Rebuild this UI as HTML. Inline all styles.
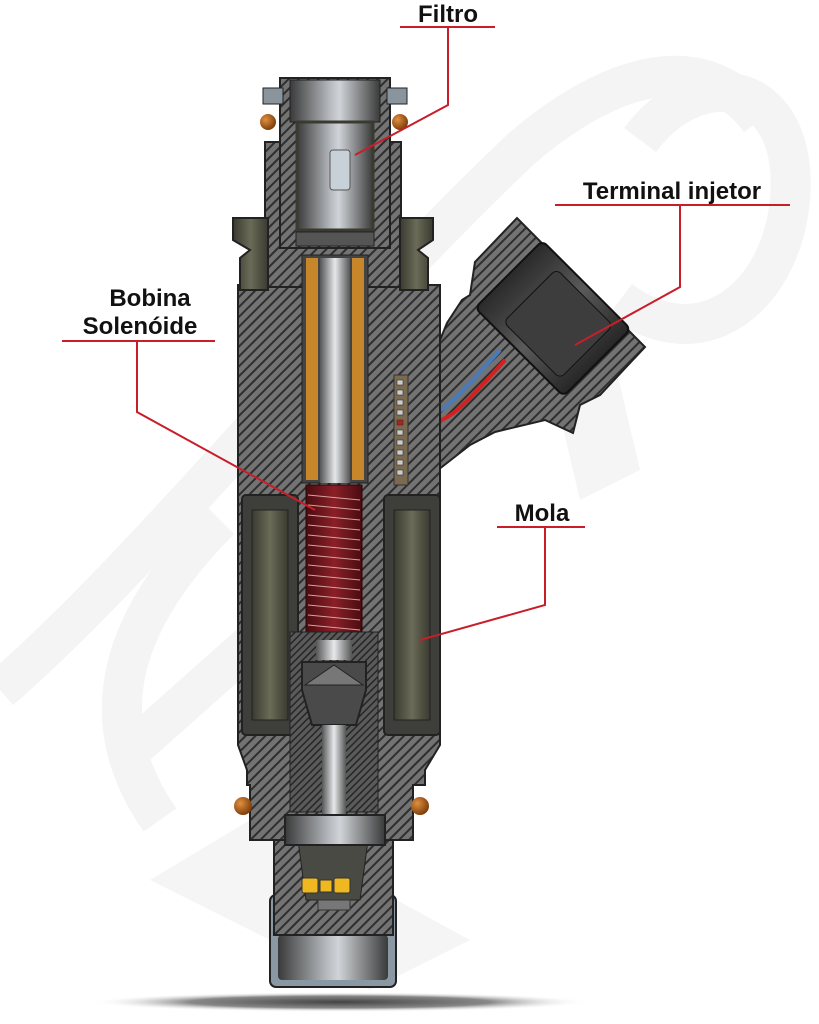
<!DOCTYPE html>
<html><head><meta charset="utf-8"><style>
html,body{margin:0;padding:0;background:#fff;}
svg{display:block;}
text{font-family:"Liberation Sans",sans-serif;font-weight:bold;fill:#111;}
</style></head><body>
<svg width="819" height="1024" viewBox="0 0 819 1024" xmlns="http://www.w3.org/2000/svg">
<defs>
<pattern id="h" width="7" height="7" patternUnits="userSpaceOnUse" patternTransform="rotate(45)">
<rect width="7" height="7" fill="#737373"/><rect width="2" height="7" fill="#2e2e2e"/>
</pattern>
<pattern id="h2" width="5" height="5" patternUnits="userSpaceOnUse" patternTransform="rotate(45)">
<rect width="5" height="5" fill="#5a5a5a"/><rect width="1.5" height="5" fill="#262626"/>
</pattern>
<linearGradient id="met" x1="0" x2="1">
<stop offset="0" stop-color="#3a3a3a"/><stop offset="0.45" stop-color="#b8bcc0"/><stop offset="0.55" stop-color="#d0d4d8"/><stop offset="1" stop-color="#3a3a3a"/>
</linearGradient>
<linearGradient id="rod" x1="0" x2="1">
<stop offset="0" stop-color="#555"/><stop offset="0.5" stop-color="#e6e8ea"/><stop offset="1" stop-color="#555"/>
</linearGradient>
<linearGradient id="coil" x1="0" x2="1">
<stop offset="0" stop-color="#4a0c10"/><stop offset="0.5" stop-color="#8a2028"/><stop offset="1" stop-color="#4a0c10"/>
</linearGradient>
<linearGradient id="olive" x1="0" x2="1">
<stop offset="0" stop-color="#3a3a30"/><stop offset="0.5" stop-color="#6b6b58"/><stop offset="1" stop-color="#3a3a30"/>
</linearGradient>
<linearGradient id="conn" x1="0" x2="1">
<stop offset="0" stop-color="#2a2a2a"/><stop offset="0.5" stop-color="#5a5a5a"/><stop offset="1" stop-color="#262626"/>
</linearGradient>
<radialGradient id="ball" cx="0.35" cy="0.35" r="0.7">
<stop offset="0" stop-color="#e09040"/><stop offset="1" stop-color="#7a3a08"/>
</radialGradient>
<radialGradient id="sh" cx="0.5" cy="0.5" r="0.5">
<stop offset="0" stop-color="#444"/><stop offset="0.6" stop-color="#888"/><stop offset="1" stop-color="#fff" stop-opacity="0"/>
</radialGradient>
</defs>

<!-- watermark -->
<g fill="none" stroke="#f4f4f4" stroke-width="40">
<path d="M0 690 C150 560 330 330 520 150 C600 80 700 40 760 120"/>
<path d="M160 820 C90 720 120 620 220 520"/>
<path d="M640 140 C700 60 800 80 790 200 C780 300 700 360 620 300"/>
<path d="M120 760 L300 600"/>
</g>
<g fill="#f5f5f5">
<polygon points="150,880 250,820 470,940 370,990"/>
<polygon points="540,330 600,300 640,470 580,500"/>
</g>

<!-- shadow -->
<ellipse cx="340" cy="1002" rx="250" ry="10" fill="url(#sh)"/>

<!-- bottom cap -->
<rect x="270" y="895" width="126" height="92" rx="6" fill="#8a98a4" stroke="#222" stroke-width="2"/>
<rect x="278" y="935" width="110" height="45" rx="4" fill="url(#met)"/>
<path d="M274 830 H393 V935 H274 Z" fill="url(#h)" stroke="#222" stroke-width="2"/>
<path d="M298 840 H368 L360 900 H306 Z" fill="#4a4a44" stroke="#222"/>
<rect x="302" y="878" width="16" height="15" rx="2" fill="#f0b820" stroke="#333"/>
<rect x="320" y="880" width="12" height="12" fill="#f0b820" stroke="#333"/>
<rect x="334" y="878" width="16" height="15" rx="2" fill="#f0b820" stroke="#333"/>
<rect x="318" y="900" width="32" height="10" fill="#777" stroke="#333"/>

<!-- connector housing -->
<polygon points="438,345 447,323 462,300 470,295 475,262 517,218 645,347 600,395 580,405 573,433 545,420 495,432 470,445 438,470" fill="url(#h)" stroke="#222" stroke-width="2"/>
<g transform="translate(560,322) rotate(45)">
<rect x="-70" y="-45" width="125" height="95" rx="6" fill="url(#conn)" stroke="#111" stroke-width="2"/>
<rect x="-40" y="-35" width="80" height="75" rx="6" fill="#3d3d3d" stroke="#111"/>
</g>
<path d="M430 415 C445 410 455 400 500 350" stroke="#4a7ab8" stroke-width="4" fill="none"/>
<path d="M430 423 C450 420 460 410 505 360" stroke="#d42020" stroke-width="4" fill="none"/>

<!-- main body -->
<path d="M238 285 H440 V745 L425 770 V785 H413 V840 H250 V785 H247 V770 L238 745 Z" fill="url(#h)" stroke="#222" stroke-width="2"/>
<rect x="265" y="142" width="136" height="145" fill="url(#h)" stroke="#222" stroke-width="2"/>
<path d="M233 218 H268 V290 H240 V258 L250 250 L233 240 Z" fill="url(#olive)" stroke="#222" stroke-width="2"/>
<path d="M433 218 H400 V290 H428 V258 L418 250 L433 240 Z" fill="url(#olive)" stroke="#222" stroke-width="2"/>
<rect x="280" y="78" width="110" height="170" fill="url(#h)" stroke="#222" stroke-width="2"/>
<rect x="263" y="88" width="20" height="16" fill="#8a949c" stroke="#222"/>
<rect x="387" y="88" width="20" height="16" fill="#8a949c" stroke="#222"/>
<rect x="290" y="80" width="90" height="42" fill="url(#met)" stroke="#222"/>
<rect x="297" y="122" width="76" height="108" fill="url(#met)" stroke="#3a3a30" stroke-width="3"/>
<rect x="330" y="150" width="20" height="40" rx="3" fill="#c8d0d8" stroke="#555"/>
<rect x="296" y="232" width="78" height="14" fill="#555" stroke="#222"/>
<circle cx="268" cy="122" r="8" fill="url(#ball)"/>
<circle cx="400" cy="122" r="8" fill="url(#ball)"/>
<rect x="302" y="255" width="66" height="228" fill="#444" stroke="#222"/>
<rect x="306" y="258" width="12" height="222" fill="#c8862a"/>
<rect x="352" y="258" width="12" height="222" fill="#c8862a"/>
<rect x="320" y="258" width="30" height="225" fill="url(#rod)"/>
<rect x="394" y="375" width="14" height="110" fill="#7a6a50" stroke="#333"/>
<g fill="#ccc" stroke="#333" stroke-width="0.6">
<rect x="397" y="380" width="6" height="5"/><rect x="397" y="390" width="6" height="5"/><rect x="397" y="400" width="6" height="5"/><rect x="397" y="410" width="6" height="5"/><rect x="397" y="420" width="6" height="5" fill="#b02020"/><rect x="397" y="430" width="6" height="5"/><rect x="397" y="440" width="6" height="5"/><rect x="397" y="450" width="6" height="5"/><rect x="397" y="460" width="6" height="5"/><rect x="397" y="470" width="6" height="5"/>
</g>
<rect x="242" y="495" width="56" height="240" rx="4" fill="#3e3e3a" stroke="#222" stroke-width="2"/>
<rect x="252" y="510" width="36" height="210" fill="url(#olive)" stroke="#222"/>
<rect x="384" y="495" width="56" height="240" rx="4" fill="#3e3e3a" stroke="#222" stroke-width="2"/>
<rect x="394" y="510" width="36" height="210" fill="url(#olive)" stroke="#222"/>
<rect x="306" y="485" width="56" height="160" fill="url(#coil)" stroke="#2a0608"/>
<g stroke="#d8a0a0" stroke-width="1">
<line x1="308" y1="495" x2="360" y2="500"/><line x1="308" y1="505" x2="360" y2="510"/><line x1="308" y1="515" x2="360" y2="520"/><line x1="308" y1="525" x2="360" y2="530"/><line x1="308" y1="535" x2="360" y2="540"/><line x1="308" y1="545" x2="360" y2="550"/><line x1="308" y1="555" x2="360" y2="560"/><line x1="308" y1="565" x2="360" y2="570"/><line x1="308" y1="575" x2="360" y2="580"/><line x1="308" y1="585" x2="360" y2="590"/><line x1="308" y1="595" x2="360" y2="600"/><line x1="308" y1="605" x2="360" y2="610"/><line x1="308" y1="615" x2="360" y2="620"/><line x1="308" y1="625" x2="360" y2="630"/><line x1="308" y1="635" x2="360" y2="640"/>
</g>
<rect x="290" y="632" width="88" height="180" fill="url(#h2)" stroke="#222"/>
<rect x="316" y="640" width="36" height="20" fill="url(#rod)"/>
<path d="M302 662 H366 V690 L356 725 H312 L302 690 Z" fill="#4a4a4a" stroke="#222" stroke-width="2"/>
<polygon points="305,685 334,665 363,685" fill="#777" stroke="#222"/>
<rect x="322" y="725" width="24" height="95" fill="url(#rod)"/>
<rect x="285" y="815" width="100" height="30" fill="url(#met)" stroke="#222" stroke-width="2"/>
<circle cx="243" cy="806" r="9" fill="url(#ball)"/>
<circle cx="420" cy="806" r="9" fill="url(#ball)"/>

<!-- labels -->
<g stroke="#c81e2a" stroke-width="2" fill="none">
<polyline points="400,27 495,27"/>
<polyline points="448,27 448,105 355,155"/>
<polyline points="555,205 790,205"/>
<polyline points="680,205 680,287 575,345"/>
<polyline points="62,341 215,341"/>
<polyline points="137,341 137,412 315,510"/>
<polyline points="497,527 585,527"/>
<polyline points="545,527 545,605 420,640"/>
</g>
<text x="448" y="22" font-size="24" text-anchor="middle">Filtro</text>
<text x="672" y="199" font-size="24" text-anchor="middle">Terminal injetor</text>
<text x="150" y="306" font-size="24" text-anchor="middle">Bobina</text>
<text x="140" y="334" font-size="24" text-anchor="middle">Solenóide</text>
<text x="542" y="521" font-size="24" text-anchor="middle">Mola</text>
</svg>
</body></html>
